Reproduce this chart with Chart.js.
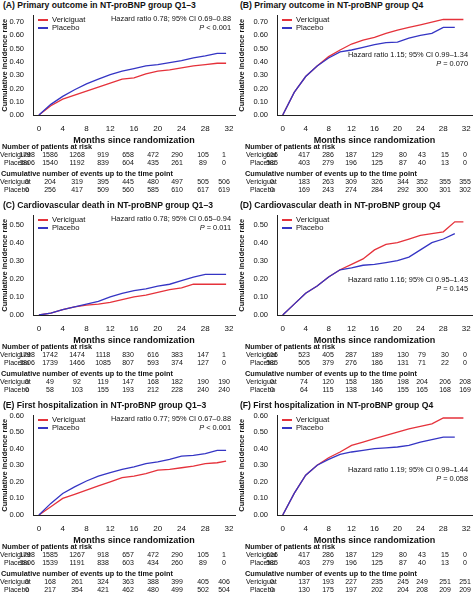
<!DOCTYPE html>
<html><head><meta charset="utf-8">
<script src="https://cdn.jsdelivr.net/npm/chart.js@4.4.0/dist/chart.umd.min.js"></script>
<style>
body{margin:0;width:474px;height:592px;overflow:hidden;background:#fff;font-family:"Liberation Sans",Arial,sans-serif;color:#111}
.p{position:absolute;width:237px;height:200px}
.t{position:absolute;left:3px;top:0px;font-weight:bold;font-size:8.6px;white-space:nowrap}
canvas{position:absolute;left:0;top:10px}
.a{position:absolute;font-size:7px;white-space:nowrap}
.h{font-weight:bold;font-size:7.3px}
.lg{position:absolute;font-size:7.6px;white-space:nowrap}
.lg i{display:inline-block;width:10px;height:2px;vertical-align:middle;margin-right:4px}
.hr{position:absolute;font-size:7.4px;text-align:right;white-space:nowrap;line-height:9px}
</style></head><body>
<script>
const months=[0,2,4,6,8,10,12,14,16,18,20,22,24,26,28,30,31.5];
const tickMonths=[0,4,8,12,16,20,24,28,32];
const titles=["(A) Primary outcome in NT-proBNP group Q1–3","(B) Primary outcome in NT-proBNP group Q4","(C) Cardiovascular death in NT-proBNP group Q1–3","(D) Cardiovascular death in NT-proBNP group Q4","(E) First hospitalization in NT-proBNP group Q1–3","(F) First hospitalization in NT-proBNP group Q4"];
const hrText=["Hazard ratio 0.78; 95% CI 0.69–0.88","Hazard ratio 1.15; 95% CI 0.99–1.34","Hazard ratio 0.78; 95% CI 0.65–0.94","Hazard ratio 1.16; 95% CI 0.95–1.43","Hazard ratio 0.77; 95% CI 0.67–0.88","Hazard ratio 1.19; 95% CI 0.99–1.44"];
const pText=["< 0.001","= 0.070","= 0.011","= 0.145","< 0.001","= 0.058"];
const yMax=[0.75,0.75,0.55,0.55,0.6,0.6];
const vericA=[0,0.07,0.12,0.15,0.18,0.21,0.24,0.27,0.28,0.31,0.33,0.34,0.355,0.37,0.38,0.39,0.39];
const placA=[0,0.08,0.14,0.19,0.235,0.27,0.305,0.33,0.35,0.37,0.38,0.395,0.41,0.43,0.445,0.465,0.465];
const vericB=[0,0.17,0.29,0.37,0.44,0.49,0.535,0.565,0.585,0.615,0.64,0.66,0.68,0.70,0.72,0.72,0.72];
const placB=[0,0.17,0.29,0.37,0.43,0.475,0.49,0.51,0.53,0.545,0.55,0.58,0.60,0.615,0.66,0.66,null];
const vericC=[0,0.01,0.03,0.045,0.055,0.06,0.07,0.085,0.10,0.11,0.125,0.14,0.15,0.17,0.17,0.17,0.17];
const placC=[0,0.01,0.03,0.045,0.06,0.075,0.10,0.12,0.135,0.145,0.16,0.17,0.19,0.21,0.225,0.225,0.225];
const vericD=[0,0.06,0.12,0.16,0.21,0.25,0.28,0.31,0.36,0.39,0.40,0.42,0.44,0.45,0.46,0.515,0.515];
const placD=[0,0.06,0.12,0.16,0.21,0.25,0.26,0.275,0.28,0.29,0.30,0.32,0.36,0.40,0.42,0.45,null];
const vericE=[0,0.05,0.10,0.125,0.15,0.175,0.20,0.225,0.235,0.25,0.27,0.275,0.285,0.295,0.31,0.315,0.325];
const placE=[0,0.07,0.13,0.17,0.205,0.235,0.255,0.275,0.29,0.31,0.32,0.335,0.355,0.36,0.37,0.39,0.39];
const vericF=[0,0.13,0.24,0.30,0.345,0.38,0.42,0.44,0.46,0.48,0.50,0.52,0.535,0.55,0.585,0.585,0.585];
const placF=[0,0.13,0.24,0.30,0.335,0.365,0.38,0.39,0.40,0.405,0.41,0.42,0.44,0.455,0.47,0.47,null];
const riskV=[[1798,1586,1268,919,658,472,290,105,1],[616,417,286,187,129,80,43,15,0],[1798,1742,1474,1118,830,616,383,147,1],[616,523,405,287,189,130,79,30,0],[1798,1585,1267,918,657,472,290,105,1],[616,417,286,187,129,80,43,15,0]];
const riskP=[[1806,1540,1192,839,604,435,261,89,0],[585,403,279,196,125,87,40,13,0],[1806,1739,1466,1085,807,593,374,127,0],[585,505,379,276,186,131,71,22,0],[1806,1539,1191,838,603,434,260,89,0],[585,403,279,196,125,87,40,13,0]];
const evV=[[0,204,319,395,445,480,497,505,506],[0,183,263,309,326,344,352,355,355],[0,49,92,119,147,168,182,190,190],[0,74,120,158,186,198,204,206,208],[0,168,261,324,363,388,399,405,406],[0,137,193,227,235,245,249,251,251]];
const evP=[[0,256,417,509,560,585,610,617,619],[0,169,243,274,284,292,300,301,302],[0,58,103,155,193,212,228,240,240],[0,64,115,138,146,155,165,168,169],[0,217,354,421,462,480,499,502,504],[0,130,175,197,202,204,208,209,209]];
const verici=[vericA,vericB,vericC,vericD,vericE,vericF];
const placebo=[placA,placB,placC,placD,placE,placF];
const RED="#e5323b",BLUE="#3535c4";
const hrY=[14,50,14,75,14,65];
const colL=[27,50,77,103,128,153,177,203,224], colR=[35,67,91,114,140,166,185,208,228];

for(let i=0;i<6;i++){
  const col=i%2,row=Math.floor(i/2);
  const p=document.createElement('div');p.className='p';
  p.style.left=(col*237)+'px';p.style.top=(row*200)+'px';
  document.body.appendChild(p);
  p.innerHTML=`<div class="t">${titles[i]}</div>`;
  const cv=document.createElement('canvas');cv.width=237;cv.height=140;
  cv.style.width='237px';cv.style.height='140px';p.appendChild(cv);
  const yw=col?40:33;
  const ch=new Chart(cv,{type:'line',
    data:{labels:months,datasets:[
      {data:placebo[i],borderColor:BLUE,borderWidth:1.3,pointRadius:0,tension:0,spanGaps:false},
      {data:verici[i],borderColor:RED,borderWidth:1.3,pointRadius:0,tension:0}]},
    options:{animation:false,responsive:false,devicePixelRatio:1,
      layout:{padding:{top:4,right:2,left:0,bottom:0}},
      plugins:{legend:{display:false},tooltip:{enabled:false}},
      scales:{
        x:{type:'linear',min:-1,max:33,grid:{display:false,drawTicks:true},border:{color:'#222'},
          afterBuildTicks:s=>{s.ticks=tickMonths.map(v=>({value:v}));},
          ticks:{font:{size:8,family:'Liberation Sans'},color:'#111',padding:1},
          title:{display:true,text:'Months since randomization',font:{size:9,weight:'bold',family:'Liberation Sans'},color:'#111',padding:{top:1}},
          afterFit:s=>{s.height=35;}},
        y:{min:0,max:yMax[i],grid:{display:false},border:{color:'#222'},
          afterBuildTicks:s=>{const t=[];for(let k=0;k<=Math.floor(yMax[i]*10+1e-6);k++)t.push({value:k/10});s.ticks=t;},
          ticks:{font:{size:7.5,family:'Liberation Sans'},color:'#111',padding:1,callback:v=>Number(v).toFixed(2)},
          title:{display:true,text:'Cumulative incidence rate',font:{size:7.5,weight:'bold',family:'Liberation Sans'},color:'#111',padding:0},
          afterFit:s=>{s.width=yw;}}
      }}});
  const top=ch.chartArea.top+10;
  const lx=ch.chartArea.left+5;
  p.insertAdjacentHTML('beforeend',`<div class="lg" style="left:${lx}px;top:${top-1}px"><i style="background:${RED}"></i>Vericiguat</div><div class="lg" style="left:${lx}px;top:${top+7}px"><i style="background:${BLUE}"></i>Placebo</div>`);
  p.insertAdjacentHTML('beforeend',`<div class="hr" style="right:${237-ch.chartArea.right+4}px;top:${hrY[i]}px">${hrText[i]}<br><i>P</i> ${pText[i]}</div>`);
  let h=`<div class="a h" style="left:${col?8:2}px;top:142px">Number of patients at risk</div>`+
        `<div class="a h" style="left:${col?8:1}px;top:169px">Cumulative number of events up to the time point</div>`;
  const rows=[[riskV[i],'Vericiguat',151],[riskP[i],'Placebo',159],[evV[i],'Vericiguat',178],[evP[i],'Placebo',186]];
  const cols=col?colR:colL;
  for(const [vals,lab,y] of rows){
    const lxx=col?9:0;
    h+=`<div class="a" style="left:${lab==='Placebo'?lxx+4:lxx}px;top:${y}px">${lab}</div>`;
    vals.forEach((v,k)=>{const px=cols[k];
      h+=`<div class="a" style="left:${px-12}px;width:24px;text-align:center;top:${y}px">${v}</div>`;});
  }
  p.insertAdjacentHTML('beforeend',h);
}
</script>
</body></html>
